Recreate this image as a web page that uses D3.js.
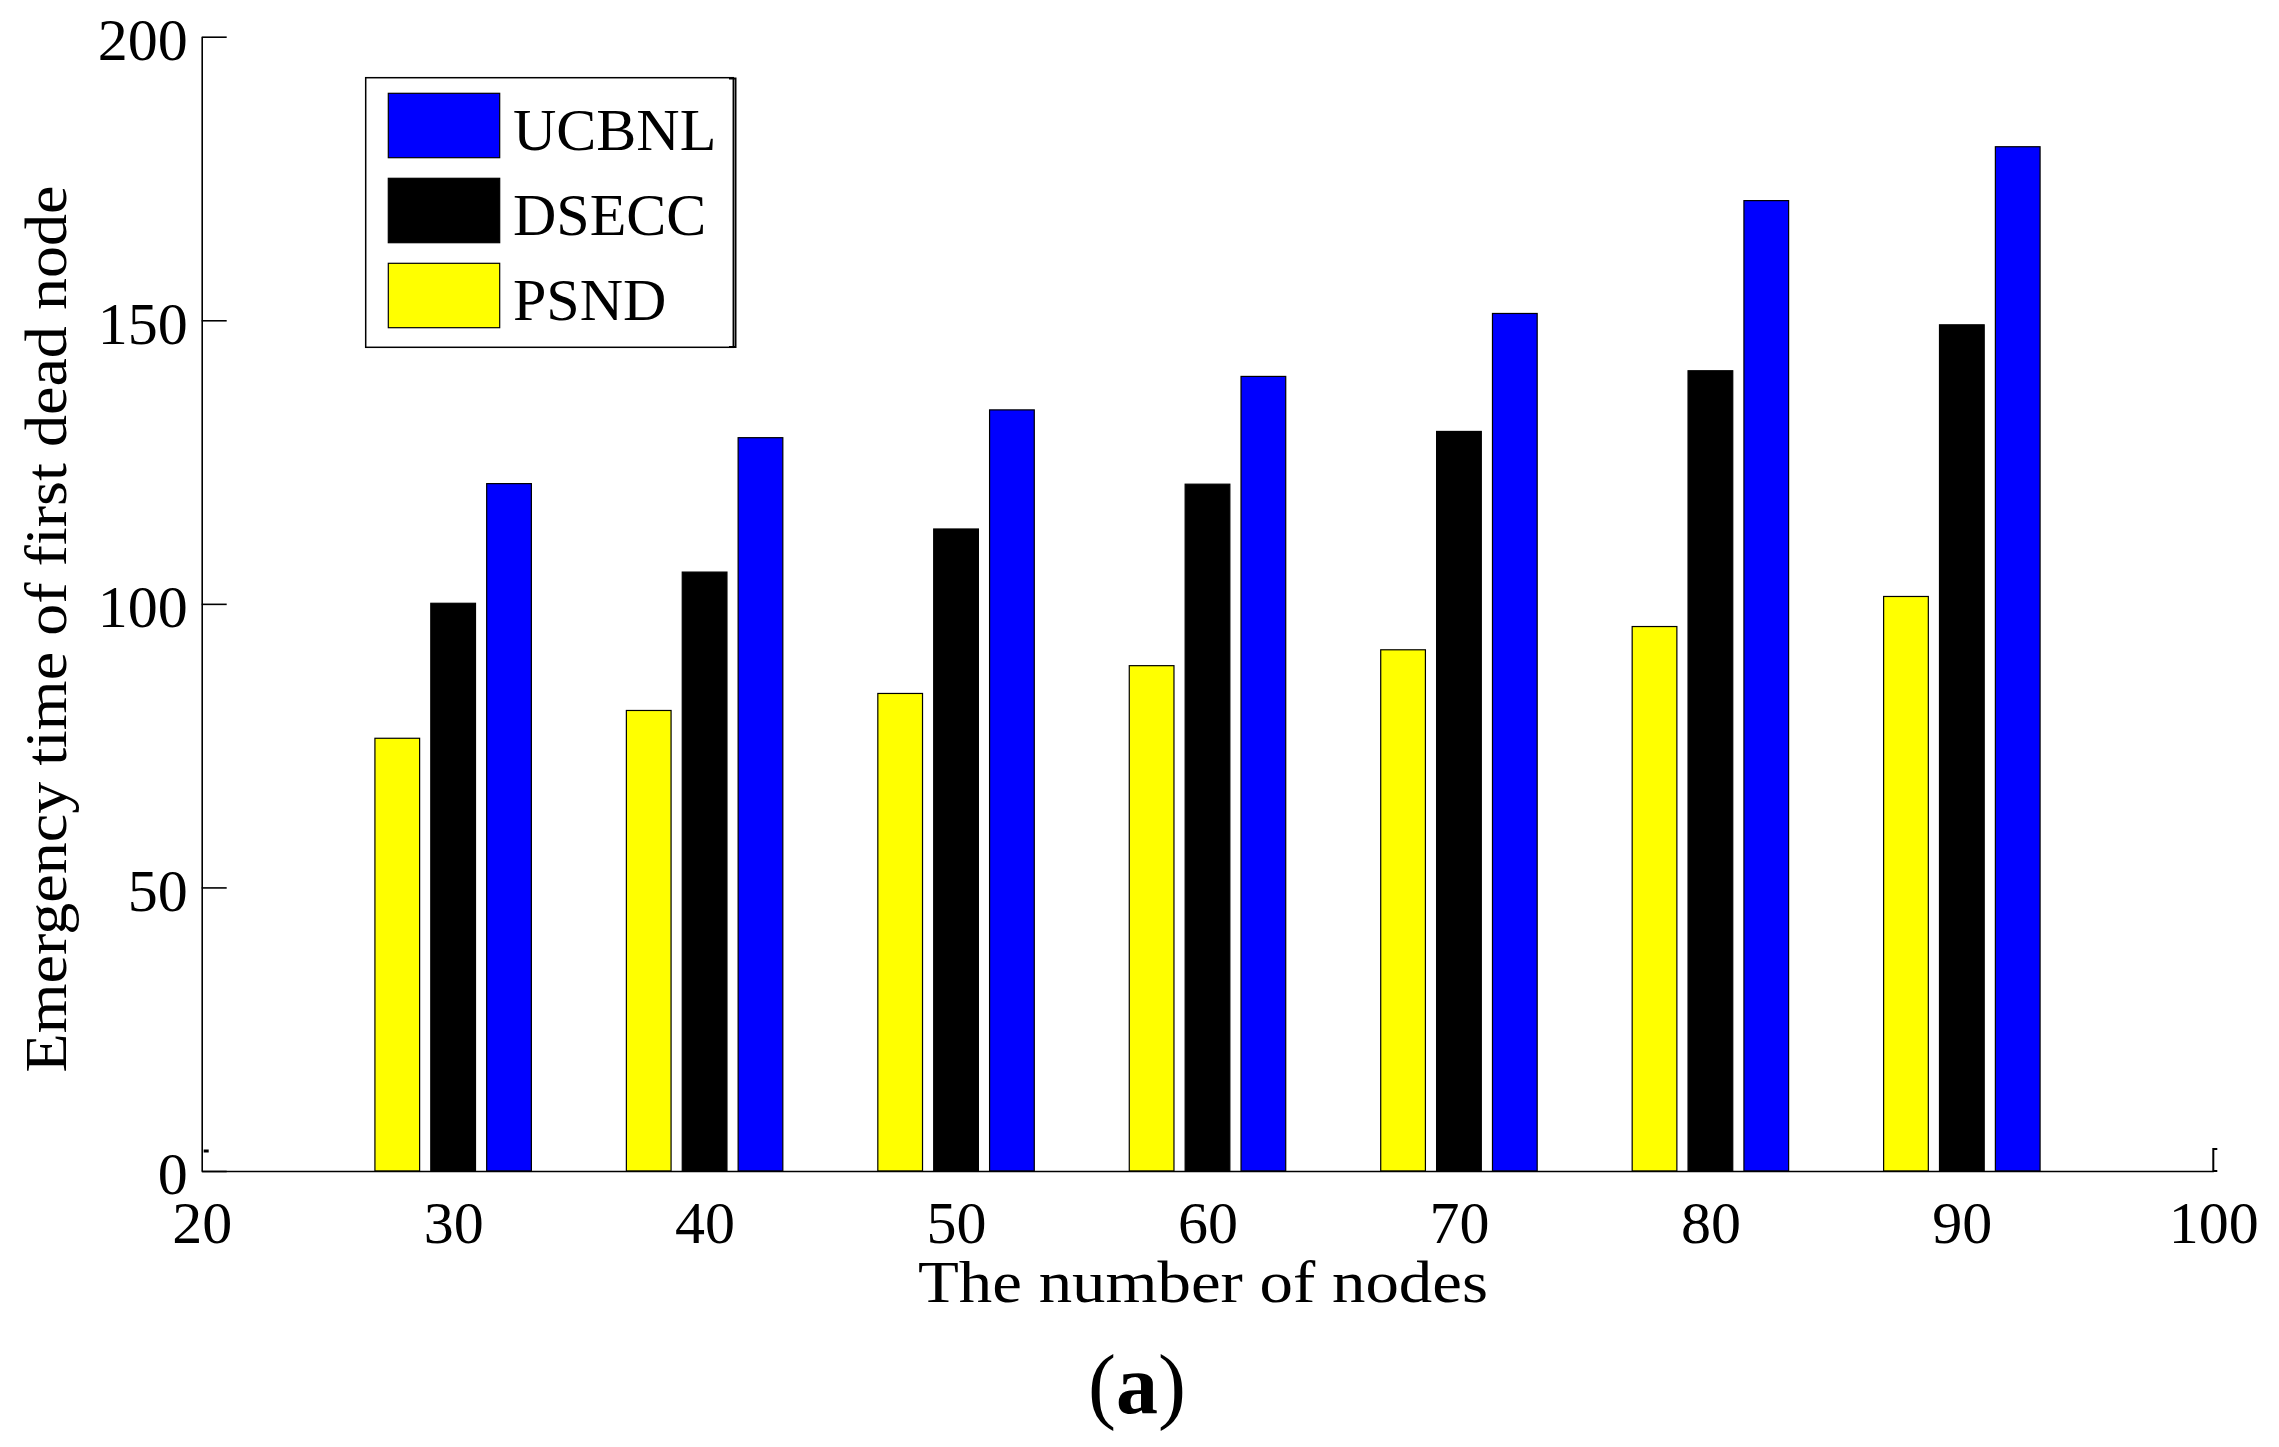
<!DOCTYPE html>
<html>
<head>
<meta charset="utf-8">
<script src="https://cdn.jsdelivr.net/npm/d3@7"></script>
<style>
  html, body { margin: 0; padding: 0; background: #fff; }
  svg { display: block; }
  text { font-family: "Liberation Serif", "Times New Roman", serif; fill: #000; }
</style>
</head>
<body>
<svg id="chart" width="2279" height="1447"></svg>
<script>
// ---- data ----
const categories = [30, 40, 50, 60, 70, 80, 90];
const seriesNames = ["PSND", "DSECC", "UCBNL"];
const psnd  = [76.3, 81.2, 84.2, 89.1, 91.9, 96.0, 101.3];
const dsecc = [100.1, 105.6, 113.2, 121.1, 130.4, 141.1, 149.2];
const ucbnl = [121.2, 129.3, 134.2, 140.1, 151.2, 171.1, 180.6];
const seriesColors = ["#ffff00", "#000000", "#0000ff"];
const xTicks = [20, 30, 40, 50, 60, 70, 80, 90, 100];
const yTicks = [0, 50, 100, 150, 200];
const legendOrder = ["UCBNL", "DSECC", "PSND"];
const xLabel = "The number of nodes";
const yLabel = "Emergency time of first dead node";

const seriesValues = [psnd, dsecc, ucbnl];

// ---- layout ----
const svg = d3.select("#chart");
const mLeft = 201.7, mRight = 2213.3, mTop = 36.7, mBottom = 1171;
const x = d3.scaleLinear().domain([20, 100]).range([mLeft, mRight]);
const y = d3.scaleLinear().domain([0, 200]).range([mBottom, mTop]);

// grouped bar geometry (MATLAB style): group width 10*3/4.5, bar width 0.8 of slot
const slot = 10 * (3 / 4.5) / 3;
const barW = slot * 0.8;

const bars = svg.append("g");
seriesValues.forEach((vals, si) => {
  const off = (si - 1) * slot;
  bars.selectAll(null)
    .data(categories.map((c, i) => ({ c, v: vals[i] })))
    .enter().append("rect")
    .attr("x", d => x(d.c + off - barW / 2))
    .attr("width", d => x(d.c + off + barW / 2) - x(d.c + off - barW / 2))
    .attr("y", d => y(d.v))
    .attr("height", d => y(0) - y(d.v))
    .attr("fill", seriesColors[si])
    .attr("stroke", "#000")
    .attr("stroke-width", 1.2);
});

// ---- axes ----
const yAxis = d3.axisLeft(y).tickValues(yTicks).tickSizeInner(-25).tickSizeOuter(0).tickPadding(14);
const gy = svg.append("g").attr("transform", `translate(${mLeft},0)`).call(yAxis);
gy.selectAll("text").style("font-size", "60px").style("font-family", "Liberation Serif").attr("dy", "0.38em");
gy.selectAll("line").attr("stroke-width", 1.6);
gy.select(".domain").attr("stroke-width", 1.6);

const xAxis = d3.axisBottom(x).tickValues(xTicks).tickSizeInner(0).tickSizeOuter(0).tickPadding(29);
const gx = svg.append("g").attr("transform", `translate(0,${mBottom})`).call(xAxis);
gx.selectAll("text").style("font-size", "60px").style("font-family", "Liberation Serif");
gx.select(".domain").attr("stroke-width", 1.6);

// small MATLAB-like end marks
svg.append("path")
  .attr("d", `M${mRight + 4},${mBottom - 22}H${mRight}V${mBottom}H${mRight + 4}`)
  .attr("fill", "none").attr("stroke", "#000").attr("stroke-width", 2);
svg.append("path")
  .attr("d", `M${mLeft + 2},${mBottom - 20}h5`)
  .attr("stroke", "#000").attr("stroke-width", 3);

// ---- axis labels ----
svg.append("text")
  .attr("x", 1203).attr("y", 1302)
  .attr("text-anchor", "middle")
  .attr("textLength", 570).attr("lengthAdjust", "spacingAndGlyphs")
  .style("font-size", "60px")
  .text(xLabel);

svg.append("text")
  .attr("transform", "translate(66,629) rotate(-90)")
  .attr("text-anchor", "middle")
  .attr("textLength", 887).attr("lengthAdjust", "spacingAndGlyphs")
  .style("font-size", "60px")
  .text(yLabel);

// caption (a)
const cap = svg.append("text")
  .attr("x", 1137).attr("y", 1413)
  .attr("text-anchor", "middle")
  .style("font-size", "84px");
cap.append("tspan").text("(");
cap.append("tspan").style("font-weight", "bold").text("a");
cap.append("tspan").text(")");

// ---- legend ----
const lg = svg.append("g");
lg.append("rect")
  .attr("x", 365.7).attr("y", 77.7).attr("width", 367.6).attr("height", 269.6)
  .attr("fill", "#fff").attr("stroke", "#000").attr("stroke-width", 1.5);
lg.append("path")
  .attr("d", "M729,78.5H735.5V347H729")
  .attr("fill", "none").attr("stroke", "#000").attr("stroke-width", 2);
legendOrder.forEach((name, i) => {
  const si = seriesNames.indexOf(name);
  const ty = 93.3 + i * 85;
  lg.append("rect")
    .attr("x", 388.3).attr("y", ty).attr("width", 111.4).attr("height", 64.4)
    .attr("fill", seriesColors[si]).attr("stroke", "#000").attr("stroke-width", 1.2);
  lg.append("text")
    .attr("x", 513).attr("y", ty + 56.7)
    .style("font-size", "60px")
    .text(name);
});
</script>
</body>
</html>
